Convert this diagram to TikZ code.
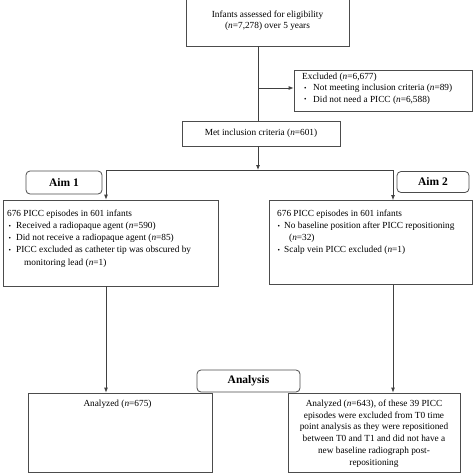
\documentclass[tikz,border=0pt]{standalone}
\usepackage{fontspec}
\setmainfont{Liberation Serif}
\usetikzlibrary{arrows.meta,calc}
\newcommand{\nn}{\textit{n}}
\newcommand{\bitem}[2]{\makebox[#1][l]{\hspace{#2}\raisebox{0.3pt}{\scalebox{0.75}{\textbullet}}}}
\begin{document}
\begin{tikzpicture}[x=1pt,y=-1pt,
  box/.style={draw=black!70, line width=0.8pt, fill=white, inner sep=0pt, font=\fontsize{9.3}{11}\selectfont},
  txt/.style={inner sep=0pt, align=left, font=\fontsize{9.3}{12.2}\selectfont},
  aimbox/.style={draw=black!70, line width=0.8pt, fill=white, rounded corners=4pt, inner sep=0pt, font=\fontsize{11.5}{13}\selectfont\bfseries},
  ln/.style={draw=black!75, line width=0.8pt},
  arr/.style={ln, -{Latex[length=5pt,width=4pt]}}
]
\useasboundingbox (0,0) rectangle (474,474);

% boxes
\node[box, minimum width=163pt, minimum height=48pt] (top) at (267.5,22) {};
\node[txt, align=center, anchor=north, font=\fontsize{9.3}{11}\selectfont] (toptxt) at (267.5,10.5) {Infants assessed for eligibility\\(\nn=7,278) over 5 years};

\node[box, minimum width=178pt, minimum height=41pt] (excl) at (383,90.5) {};
\node[txt, anchor=north west, font=\fontsize{9.3}{11.5}\selectfont] (excltxt) at (302,72.5) {Excluded (\nn=6,677)\\\bitem{11pt}{2pt}Not meeting inclusion criteria (\nn=89)\\\bitem{11pt}{2pt}Did not need a PICC (\nn=6,588)};

\node[box, minimum width=158pt, minimum height=25pt] (met) at (261,133.5) {Met inclusion criteria (\nn=601)};

\node[aimbox, minimum width=76pt, minimum height=23pt] (aim1) at (64,182.5) {Aim 1};
\node[aimbox, minimum width=72pt, minimum height=21pt] (aim2) at (433,182) {Aim 2};

\node[box, minimum width=215pt, minimum height=86pt] (l1) at (110.5,243) {};
\node[txt, anchor=north west] (l1txt) at (7,209.5) {676 PICC episodes in 601 infants\\
\bitem{9pt}{1.5pt}Received a radiopaque agent (\nn=590)\\
\bitem{9pt}{1.5pt}Did not receive a radiopaque agent (\nn=85)\\
\bitem{9pt}{1.5pt}PICC excluded as catheter tip was obscured by\\
\hspace*{17pt}monitoring lead (\nn=1)};

\node[box, minimum width=203pt, minimum height=84pt] (r1) at (370.5,242.5) {};
\node[txt, anchor=north west] (r1txt) at (277,209.5) {676 PICC episodes in 601 infants\\
\bitem{7pt}{0.5pt}No baseline position after PICC repositioning\\
\hspace*{12pt}(\nn=32)\\
\bitem{7pt}{0.5pt}Scalp vein PICC excluded (\nn=1)};

\node[box, minimum width=184pt, minimum height=79pt] (l2) at (120,432.5) {};
\node[txt, anchor=north, align=center] (l2txt) at (117.5,399.5) {Analyzed (\nn=675)};

\node[box, minimum width=172pt, minimum height=79pt] (r2) at (374,432.5) {};
\node[txt, anchor=north, align=center, font=\fontsize{9.3}{11.8}\selectfont] (r2txt) at (374,399.5) {Analyzed (\nn=643), of these 39 PICC\\episodes were excluded from T0 time\\point analysis as they were repositioned\\between T0 and T1 and did not have a\\new baseline radiograph post-\\repositioning};

\node[aimbox, minimum width=103pt, minimum height=22pt] (ana) at (248.5,381) {Analysis};

% connectors
\coordinate (mx) at (258,0);
\coordinate (ey) at (0,88);
\coordinate (hy) at (0,170);
\coordinate (lx) at (106,0);
\coordinate (rx) at (393,0);
\draw[ln] (top.south -| mx) -- (met.north -| mx);
\draw[arr] (mx |- ey) -- (excl.west |- ey);
\draw[arr] (met.south -| mx) -- (mx |- hy);
\draw[ln] (lx |- hy) -- (rx |- hy);
\draw[arr] (lx |- hy) -- (l1.north -| lx);
\draw[arr] (rx |- hy) -- (r1.north -| rx);
\draw[arr] (l1.south -| lx) -- (l2.north -| lx);
\draw[arr] (r1.south -| rx) -- (r2.north -| rx);
\end{tikzpicture}
\end{document}
